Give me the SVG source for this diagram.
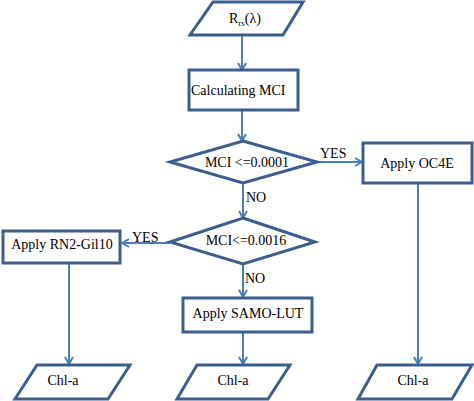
<svg xmlns="http://www.w3.org/2000/svg" width="474" height="401" viewBox="0 0 474 401">
<style>
.s{fill:#fff;stroke:#3B5E8E;stroke-width:3}
.c{fill:none;stroke:#4A7EBB;stroke-width:2}
text{font-family:'Liberation Serif','Times New Roman','DejaVu Serif',serif;font-size:14px;fill:#000}
.m{text-anchor:middle}
</style>
<defs>
<marker id="a" viewBox="0 0 10 10" refX="9" refY="5" markerWidth="10" markerHeight="10" markerUnits="userSpaceOnUse" orient="auto">
<path d="M2,1 L9,5 L2,9" fill="none" stroke="#4A7EBB" stroke-width="2"/>
</marker>
</defs>
<rect width="474" height="401" fill="#fff"/>
<g id="connectors">
<line class="c" x1="242" y1="36" x2="242" y2="70" marker-end="url(#a)"/>
<line class="c" x1="242" y1="111" x2="242" y2="141" marker-end="url(#a)"/>
<line class="c" x1="317" y1="162" x2="362" y2="162" marker-end="url(#a)"/>
<line class="c" x1="243" y1="183" x2="243" y2="218" marker-end="url(#a)"/>
<line class="c" x1="170" y1="243" x2="122" y2="243" marker-end="url(#a)"/>
<line class="c" x1="243" y1="264" x2="243" y2="297" marker-end="url(#a)"/>
<line class="c" x1="69" y1="264" x2="69" y2="364" marker-end="url(#a)"/>
<line class="c" x1="243" y1="333" x2="243" y2="364" marker-end="url(#a)"/>
<line class="c" x1="418" y1="184" x2="418" y2="364" marker-end="url(#a)"/>
<text x="320" y="158">YES</text>
<text x="246" y="202">NO</text>
<text x="132" y="242">YES</text>
<text x="245" y="283">NO</text>
</g>
<g id="input">
<polygon class="s" points="213,2 303,2 283,35 190,35"/>
<text class="m" x="245" y="23">R<tspan font-size="9" dy="3">rs</tspan><tspan dy="-3">(λ)</tspan></text>
</g>
<g id="calc">
<rect class="s" x="189" y="70" width="109" height="40"/>
<text x="191" y="95">Calculating MCI</text>
</g>
<g id="d1">
<polygon class="s" points="243,141 317,162 243,183 170,162"/>
<text class="m" x="247" y="167">MCI &lt;=0.0001</text>
</g>
<g id="oc4e">
<rect class="s" x="363" y="143" width="109" height="40"/>
<text class="m" x="417" y="168">Apply OC4E</text>
</g>
<g id="d2">
<polygon class="s" points="243,218 315,242 243,264 170,242"/>
<text class="m" x="246" y="245">MCI&lt;=0.0016</text>
</g>
<g id="rn2">
<rect class="s" x="3" y="231" width="117" height="32"/>
<text class="m" x="62" y="249">Apply RN2-Gil10</text>
</g>
<g id="samo">
<rect class="s" x="183" y="298" width="129" height="34"/>
<text class="m" x="248" y="318">Apply SAMO-LUT</text>
</g>
<g id="chl1">
<polygon class="s" points="37,365 130,365 108,399 15,399"/>
<text class="m" x="63" y="385">Chl-a</text>
</g>
<g id="chl2">
<polygon class="s" points="197,365 290,365 268,399 177,399"/>
<text class="m" x="233" y="385">Chl-a</text>
</g>
<g id="chl3">
<polygon class="s" points="377,365 472,365 452,399 358,399"/>
<text class="m" x="413" y="385">Chl-a</text>
</g>
</svg>
